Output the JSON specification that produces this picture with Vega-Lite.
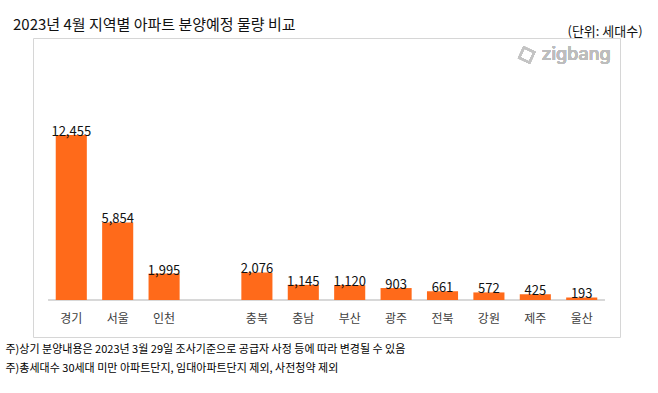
{
  "$schema": "https://vega.github.io/schema/vega-lite/v6.json",
  "width": 587,
  "height": 299,
  "autosize": {"type": "none"},
  "padding": {"left": 33, "top": 38, "right": 38, "bottom": 56},
  "background": "white",
  "config": {
    "view": {"stroke": "#d6d6d6", "strokeWidth": 1},
    "font": "Noto Sans CJK KR"
  },
  "title": {
    "text": "2023년 4월 지역별 아파트 분양예정 물량 비교",
    "anchor": "start",
    "frame": "group",
    "fontSize": 15,
    "fontWeight": "normal",
    "color": "#111111",
    "font": "Noto Sans CJK KR",
    "dx": -20,
    "offset": -8
  },
  "data": {
    "values": [
      {"region": "경기", "value": 12455},
      {"region": "서울", "value": 5854},
      {"region": "인천", "value": 1995},
      {"region": "충북", "value": 2076},
      {"region": "충남", "value": 1145},
      {"region": "부산", "value": 1120},
      {"region": "광주", "value": 903},
      {"region": "전북", "value": 661},
      {"region": "강원", "value": 572},
      {"region": "제주", "value": 425},
      {"region": "울산", "value": 193}
    ]
  },
  "encoding": {
    "x": {
      "field": "region",
      "type": "nominal",
      "sort": null,
      "scale": {
        "domain": ["경기", "서울", "인천", " ", "충북", "충남", "부산", "광주", "전북", "강원", "제주", "울산"],
        "paddingInner": 0.33,
        "paddingOuter": 0.49
      },
      "axis": {
        "orient": "bottom",
        "offset": -37,
        "domain": false,
        "ticks": false,
        "labelAngle": 0,
        "labelFontSize": 12,
        "labelColor": "#404040",
        "labelPadding": 13,
        "title": [
          "주)상기 분양내용은 2023년 3월 29일 조사기준으로 공급자 사정 등에 따라 변경될 수 있음",
          "주)총세대수 30세대 미만 아파트단지, 임대아파트단지 제외, 사전청약 제외"
        ],
        "titleX": -28,
        "titleY": 43,
        "titleAlign": "left",
        "titleBaseline": "top",
        "titleFontSize": 11,
        "titleFontWeight": "normal",
        "titleColor": "#000000",
        "titleLineHeight": 19
      }
    },
    "y": {
      "field": "value",
      "type": "quantitative",
      "scale": {"domain": [-2793, 19777], "nice": false, "zero": false},
      "axis": {
        "domain": false,
        "ticks": false,
        "labels": false,
        "grid": false,
        "title": "(단위: 세대수)",
        "titleAngle": 0,
        "titleX": 534,
        "titleY": -7,
        "titleAlign": "left",
        "titleBaseline": "middle",
        "titleFontSize": 13,
        "titleFontWeight": "normal",
        "titleColor": "#111111"
      }
    }
  },
  "layer": [
    {
      "mark": {"type": "rule", "color": "#d9d9d9", "strokeWidth": 1, "xOffset": -23, "x2Offset": 23},
      "encoding": {
        "x": {"datum": "경기"},
        "x2": {"datum": "울산"},
        "y": {"datum": 0}
      }
    },
    {
      "mark": {"type": "bar", "color": "#FF6A1A"}
    },
    {
      "mark": {"type": "text", "baseline": "alphabetic", "dy": 1, "fontSize": 13, "color": "#111111"},
      "encoding": {
        "text": {"field": "value", "type": "quantitative", "format": ",d"}
      }
    },
    {
      "mark": {"type": "text", "align": "right", "baseline": "middle", "dx": 29, "fontSize": 18, "font": "Inter", "fontWeight": 500, "color": "#bdbdbd"},
      "encoding": {
        "x": {"datum": "울산"},
        "y": {"datum": 18493},
        "text": {"value": "zigbang"}
      }
    },
    {
      "mark": {"type": "point", "shape": "square", "filled": false, "angle": 25, "size": 130, "strokeWidth": 2, "color": "#c4c4c4", "opacity": 1, "xOffset": -55},
      "encoding": {
        "x": {"datum": "울산"},
        "y": {"datum": 18493}
      }
    }
  ]
}
